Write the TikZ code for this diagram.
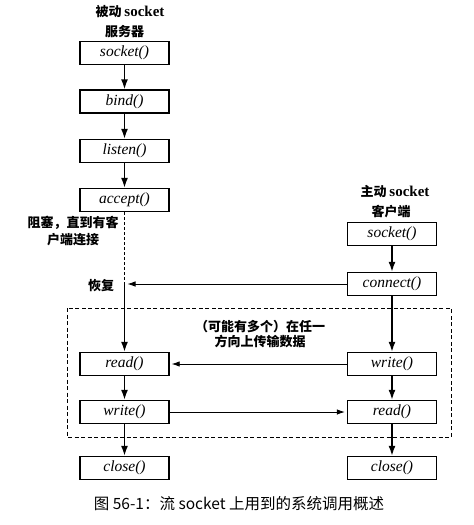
\documentclass[tikz,border=0pt]{standalone}
\usepackage{fontspec}
\setmainfont{Liberation Serif}
\newfontfamily\cjk{Noto Sans CJK SC}
\usetikzlibrary{arrows.meta}
\begin{document}
\begin{tikzpicture}[x=1pt,y=-1pt,
  fn/.style={draw,line width=1.4pt,minimum width=89pt,minimum height=23pt,inner sep=0pt,
    font=\fontsize{15.5}{17}\selectfont\itshape},
  flow/.style={line width=1.5pt,-{Latex[length=10pt,width=7pt]}},
  msg/.style={line width=0.8pt,-{Latex[length=8pt,width=5.5pt]},shorten >=2pt},
  lab/.style={font=\fontsize{13}{15}\selectfont\cjk\bfseries,align=center,inner sep=0pt},
  rmb/.style={font=\fontsize{15}{15}\selectfont\rmfamily\bfseries},
  captext/.style={font=\fontsize{15.5}{17}\selectfont\cjk,inner sep=0pt}]
\useasboundingbox (0,0) rectangle (474,525);

% server side
\node[lab] (srvt) at (130,12) {被动 {\fontsize{15}{15}\selectfont\rmfamily\bfseries socket}};
\node[lab] (srvs) at (124.5,32) {服务器};
\node[fn] (s1)  at (124.5,53)  {socket()};
\node[fn] (b1)  at (124.5,101.5) {bind()};
\node[fn] (l1)  at (124.5,151) {listen()};
\node[fn] (acc) at (124.5,200) {accept()};
\node[fn] (rd1) at (124.5,364) {read()};
\node[fn] (wr1) at (124.5,412) {write()};
\node[fn] (cl1) at (124.5,468) {close()};

% client side
\node[lab] (clt) at (395,192) {主动 {\fontsize{15}{15}\selectfont\rmfamily\bfseries socket}};
\node[lab] (cls) at (391,212) {客户端};
\node[fn] (s2)  at (392,234) {socket()};
\node[fn] (con) at (392,284) {connect()};
\node[fn] (wr2) at (392,364) {write()};
\node[fn] (rd2) at (392,412) {read()};
\node[fn] (cl2) at (392,468) {close()};

% labels
\node[lab] (blk) at (73,231.5) {阻塞，直到有客\\[2pt]户端连接};
\node[lab] (rsmt) at (101,286) {恢复};
\node[lab] (multi) at (260,334) {（可能有多个）在任一\\方向上传输数据};

% dashed region
\draw[line width=1pt,dash pattern=on 4pt off 2.5pt] (67,308) rectangle (451,437);

% server flow
\draw[flow] (s1) -- (b1);
\draw[flow] (b1) -- (l1);
\draw[flow] (l1) -- (acc);
\coordinate (rsm) at (acc.south |- con.west);
\draw[line width=1.2pt,dash pattern=on 3pt off 2pt] (acc.south) -- (rsm);
\draw[flow] (rsm) -- (rd1);
\draw[flow] (rd1) -- (wr1);
\draw[flow] (wr1) -- (cl1);

% client flow
\draw[flow] (s2) -- (con);
\draw[flow] (con) -- (wr2);
\draw[flow] (wr2) -- (rd2);
\draw[flow] (rd2) -- (cl2);

% messages
\draw[msg] (con.west) -- ([xshift=1pt]rsm);
\draw[msg] (wr2.west) -- (rd1.east);
\draw[msg] (wr1.east) -- (rd2.west);

% caption
\node[captext] (capt) at (239,504) {图 56-1：流 socket 上用到的系统调用概述};
\end{tikzpicture}
\end{document}
